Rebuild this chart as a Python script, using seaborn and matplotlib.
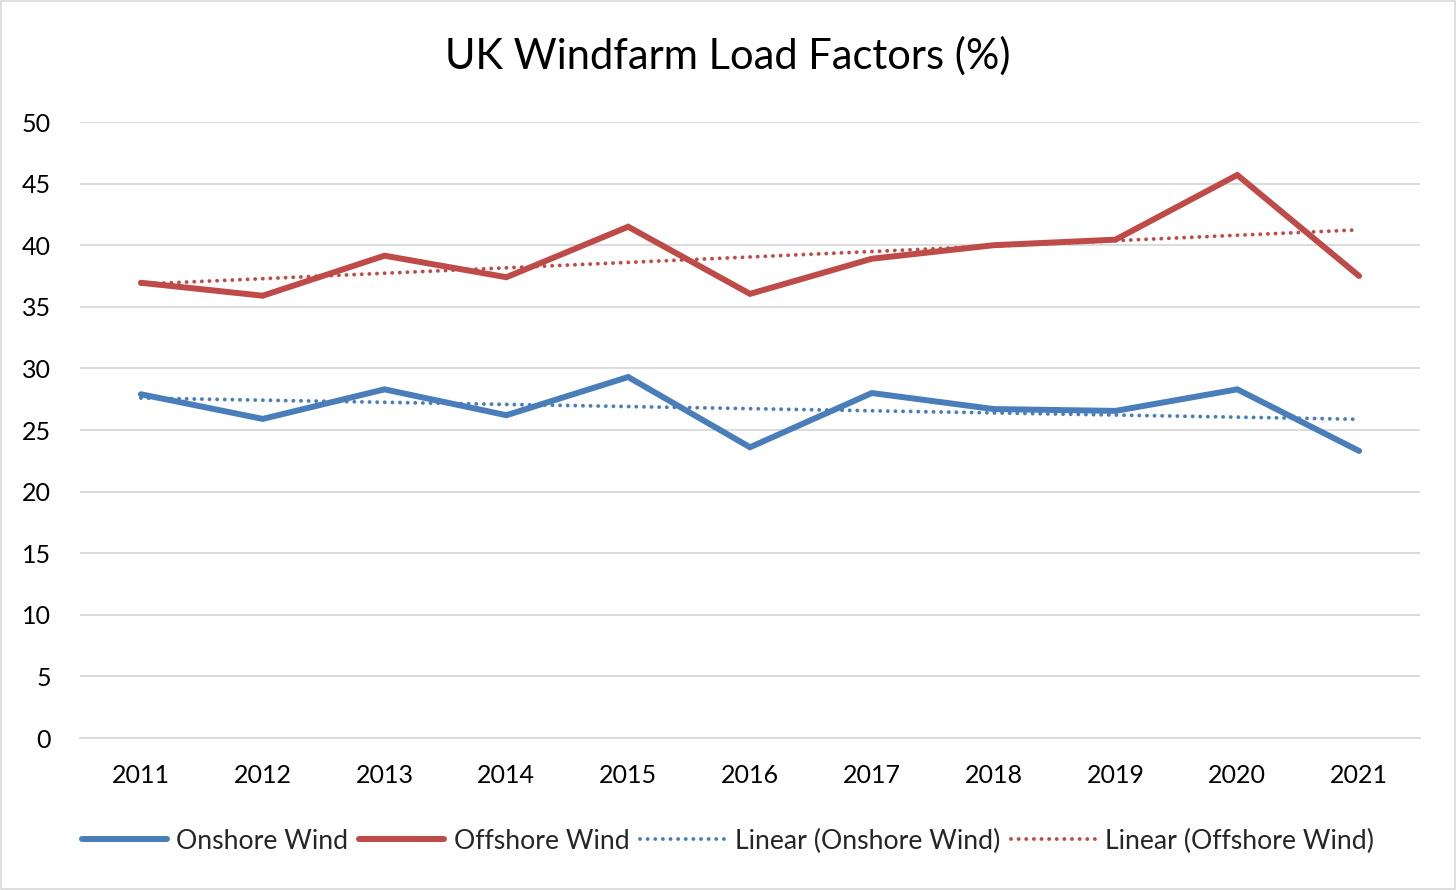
import numpy as np
import pandas as pd
import matplotlib
matplotlib.use("Agg")
import matplotlib.pyplot as plt
import seaborn as sns

years = [2011, 2012, 2013, 2014, 2015, 2016, 2017, 2018, 2019, 2020, 2021]
onshore = [27.9, 25.9, 28.3, 26.2, 29.3, 23.6, 28.0, 26.7, 26.55, 28.3, 23.3]
offshore = [36.95, 35.9, 39.15, 37.4, 41.5, 36.05, 38.9, 40.0, 40.45, 45.7, 37.5]
series_names = ["Onshore Wind", "Offshore Wind"]
colors = {"Onshore Wind": "#4a7ebb", "Offshore Wind": "#be4b48"}

sns.set_theme(style="white")
plt.rcParams['font.family'] = ['Lato', 'DejaVu Sans']

fig = plt.figure(figsize=(14.56, 8.9), dpi=100)
ax = fig.add_axes([80/1456, 1-738/890, 1340/1456, 616/890])

idx = np.arange(len(years))
df = pd.DataFrame({
    "x": np.concatenate([idx, idx]),
    "value": onshore + offshore,
    "series": ["Onshore Wind"] * len(years) + ["Offshore Wind"] * len(years),
})

MAIN_LW = 4.3
DOT_LW = 2.8
DOT_STYLE = (0, (0.01, 1.95))

sns.lineplot(data=df, x="x", y="value", hue="series", palette=colors,
             hue_order=series_names, linewidth=MAIN_LW, ax=ax, legend=False,
             solid_capstyle="round", solid_joinstyle="miter")

handles = []
for name in series_names:
    handles.append(plt.Line2D([], [], color=colors[name], lw=MAIN_LW,
                              solid_capstyle="round", label=name))
for name, vals in zip(series_names, [onshore, offshore]):
    coef = np.polyfit(idx, vals, 1)
    trend = np.polyval(coef, idx)
    tdf = pd.DataFrame({"x": idx, "value": trend})
    sns.lineplot(data=tdf, x="x", y="value", color=colors[name], ax=ax,
                 linewidth=DOT_LW, linestyle=DOT_STYLE)
    ax.lines[-1].set_dash_capstyle("round")
    handles.append(plt.Line2D([], [], color=colors[name], lw=DOT_LW,
                              linestyle=DOT_STYLE, dash_capstyle="round",
                              label=f"Linear ({name})"))

ax.set_xlim(-0.5, len(years) - 0.5)
ax.set_ylim(0, 50)
ax.set_yticks(np.arange(0, 51, 5))
ax.set_xticks(idx)
ax.set_xticklabels([str(y) for y in years])
ax.yaxis.grid(True, color="#d9d9d9", linewidth=1.3)
ax.set_axisbelow(True)
for s in ["top", "right", "left"]:
    ax.spines[s].set_visible(False)
ax.spines["bottom"].set_color("#d9d9d9")
ax.spines["bottom"].set_linewidth(1.3)
ax.tick_params(axis="both", length=0, labelsize=18, colors="black")
ax.tick_params(axis="x", pad=19)
ax.tick_params(axis="y", pad=21)
ax.set_xlabel("")
ax.set_ylabel("")

fig.text(0.5, 1 - 56/890, "UK Windfarm Load Factors (%)", ha="center",
         va="center", fontsize=30, color="black")

fig.legend(handles=handles, loc="center", bbox_to_anchor=(0.5, 1 - 841/890),
           ncol=4, frameon=False, fontsize=19.2, handlelength=3.2,
           handletextpad=0.35, columnspacing=0.4)

border = plt.Rectangle((0.001, 0.001), 0.998, 0.998, transform=fig.transFigure,
                       fill=False, edgecolor="#d9d9d9", linewidth=1.2)
fig.patches.append(border)

fig.savefig("out.png", dpi=100)
